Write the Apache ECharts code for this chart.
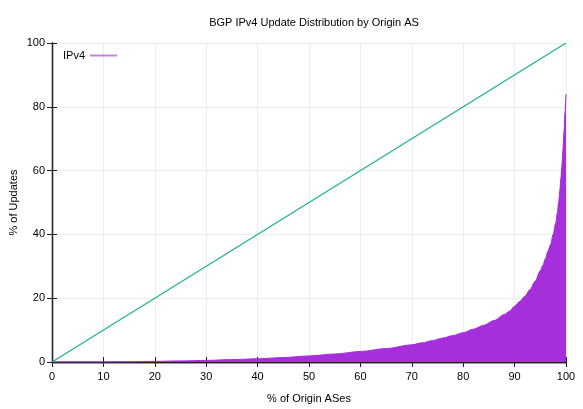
<!DOCTYPE html>
<html>
<head>
<meta charset="utf-8">
<script src="https://cdn.jsdelivr.net/npm/echarts@6/dist/echarts.min.js"></script>
<style>
html,body{margin:0;padding:0;background:#fff;}
#chart{width:583px;height:409px;}
</style>
</head>
<body>
<div id="chart"></div>
<script>
var pctOriginAS = [0, 10, 15, 20, 25, 30, 35, 40, 45, 50, 55, 60, 65, 70, 72, 74, 76, 78, 80, 82, 84, 86, 88, 89, 90, 91, 92, 93, 94, 95, 95.5, 96, 96.5, 97, 97.5, 98, 98.3, 98.6, 98.8, 99, 99.2, 99.4, 99.6, 99.8, 100];
var pctUpdates  = [0, 0, 0.05, 0.2, 0.35, 0.5, 0.75, 1.0, 1.4, 1.9, 2.5, 3.3, 4.2, 5.4, 6.0, 6.7, 7.5, 8.3, 9.2, 10.3, 11.5, 13.0, 14.9, 15.9, 17.5, 19.0, 20.6, 22.7, 25.3, 28.6, 30.3, 32.4, 34.8, 36.8, 40.0, 43.6, 46.6, 50.5, 53.9, 57.5, 61.5, 66.5, 72, 78, 84];
var diagX = [0, 100];
var diagY = [0, 100];
var seriesName = 'IPv4';

var ipv4Data = pctOriginAS.map(function (x, i) { return [x, pctUpdates[i]]; });
var diagData = diagX.map(function (x, i) { return [x, diagY[i]]; });

var font = 'Liberation Sans, Arial, sans-serif';
var chart = echarts.init(document.getElementById('chart'), null, {renderer: 'canvas'});
var axisLineStyle = {color: '#222', width: 1.3};
var tickStyle = {color: '#222', width: 1};
chart.setOption({
  animation: false,
  backgroundColor: '#fff',
  textStyle: {fontFamily: font},
  title: {
    text: 'BGP IPv4 Update Distribution by Origin AS',
    left: 309, top: 12, textAlign: 'center',
    textStyle: {fontSize: 11, fontWeight: 'normal', color: '#000', fontFamily: font}
  },
  legend: {
    data: [{name: seriesName, icon: 'rect', itemStyle: {color: '#c77fe8'}}],
    left: 58, top: 45,
    align: 'right',
    itemWidth: 27, itemHeight: 2, itemGap: 3,
    textStyle: {fontSize: 11, color: '#000', fontFamily: font, padding: [0, 0, 0, 0]}
  },
  grid: {left: 52, right: 17, top: 43, bottom: 47, containLabel: false, outerBoundsMode: 'none'},
  xAxis: [{
    type: 'value', min: 0, max: 100, interval: 10,
    name: '% of Origin ASes', nameLocation: 'middle', nameGap: 31,
    nameTextStyle: {fontSize: 11, color: '#000', fontFamily: font},
    axisLine: {lineStyle: axisLineStyle},
    axisTick: {inside: true, length: 5, lineStyle: tickStyle},
    axisLabel: {fontSize: 11, color: '#000', margin: 9, fontFamily: font},
    splitLine: {show: true, lineStyle: {color: '#ececec', width: 1}}
  }, {
    type: 'value', min: 0, max: 100, interval: 10, position: 'top',
    axisLine: {show: true, lineStyle: axisLineStyle},
    axisTick: {show: true, inside: true, length: 5, lineStyle: tickStyle},
    axisLabel: {show: false}, splitLine: {show: false}
  }],
  yAxis: [{
    type: 'value', min: 0, max: 100, interval: 20,
    name: '% of Updates', nameLocation: 'middle', nameGap: 33, nameRotate: 90,
    nameMoveOverlap: false,
    nameTextStyle: {fontSize: 11, color: '#000', fontFamily: font},
    axisLine: {show: true, lineStyle: axisLineStyle},
    axisTick: {show: true, inside: true, length: 5, lineStyle: tickStyle},
    axisLabel: {fontSize: 11, color: '#000', margin: 7, fontFamily: font},
    splitLine: {show: true, lineStyle: {color: '#ececec', width: 1}}
  }, {
    type: 'value', min: 0, max: 100, interval: 20, position: 'right',
    axisLine: {show: true, lineStyle: axisLineStyle},
    axisTick: {show: true, inside: true, length: 5, lineStyle: tickStyle},
    axisLabel: {show: false}, splitLine: {show: false}
  }],
  series: [{
    name: seriesName,
    type: 'line',
    data: ipv4Data,
    showSymbol: false,
    symbol: 'none',
    smooth: 0.3,
    smoothMonotone: 'x',
    itemStyle: {color: '#a42fdb'},
    lineStyle: {color: '#a42fdb', width: 1},
    areaStyle: {color: '#a42fdb', opacity: 1},
    z: 2
  }, {
    name: 'diag',
    type: 'line',
    data: diagData,
    showSymbol: false,
    symbol: 'none',
    lineStyle: {color: '#1bb08a', width: 1.2},
    z: 3
  }]
});
</script>
</body>
</html>
